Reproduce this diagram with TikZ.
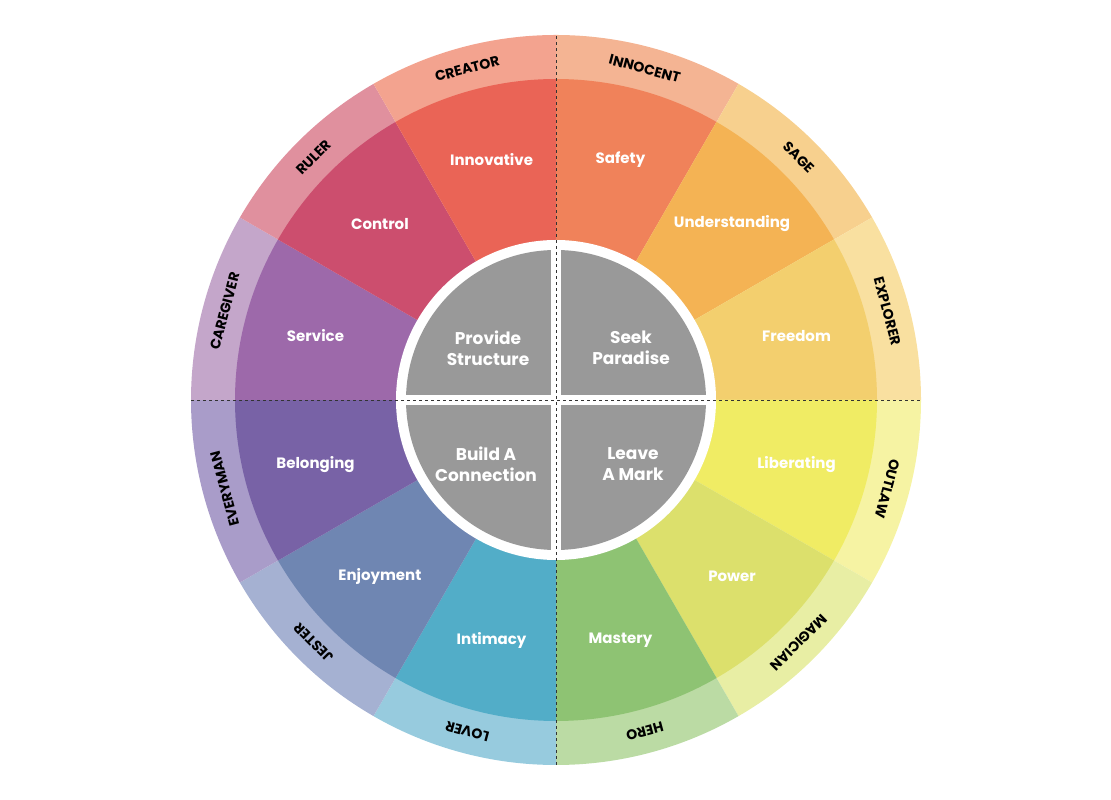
\documentclass[tikz,border=0pt]{standalone}
\usepackage{fontspec}
\setmainfont{Poppins}
\usetikzlibrary{calc}
\begin{document}
\begin{tikzpicture}[x=1pt,y=1pt,
  inlab/.style={text=white,font=\bfseries\fontsize{15}{17}\selectfont,align=center},
  outlab/.style={text=black,font=\bfseries\fontsize{14}{16}\selectfont},
  ctr/.style={text=white,font=\bfseries\fontsize{17}{21}\selectfont,align=center}]
\useasboundingbox (0,0) rectangle (1111,800);
\coordinate (c) at (556,400);
\foreach \i/\oc/\ic/\ol/\il in {
 0/F4B493/F0825A/INNOCENT/Safety,
 1/F7D08E/F4B354/SAGE/Understanding,
 2/F9E0A0/F3CF6E/EXPLORER/Freedom,
 3/F6F3A3/F0EC64/OUTLAW/Liberating,
 4/E8EEA4/DCE06C/MAGICIAN/Power,
 5/BBDBA4/8EC373/HERO/Mastery,
 6/97CBDE/52ADC8/LOVER/Intimacy,
 7/A5B1D2/6F86B2/JESTER/Enjoyment,
 8/A99CC9/7862A6/EVERYMAN/Belonging,
 9/C4A6CA/9D69AA/CAREGIVER/Service,
 10/E0909E/CC4E6E/RULER/Control,
 11/F3A38F/EA6456/CREATOR/Innovative}{
  \definecolor{oc}{HTML}{\oc}\definecolor{ic}{HTML}{\ic}
  \pgfmathsetmacro{\a}{90-30*\i}
  \pgfmathsetmacro{\b}{\a-30}
  \pgfmathsetmacro{\m}{\a-15}
  \pgfmathsetmacro{\r}{\m-90}
  \fill[oc] (c) -- ++(\a:365) arc[start angle=\a,end angle=\b,radius=365] -- cycle;
  \fill[ic] (c) -- ++(\a:321) arc[start angle=\a,end angle=\b,radius=321] -- cycle;
  \node[outlab,rotate=\r] (o\i) at ($(c)+(\m:343)$) {\ol};
  \node[inlab] (n\i) at ($(c)+(\m:249)$) {\il};
}
\fill[white] (c) circle (160);
\fill[black!40!white] (c) circle (150);
\fill[white] (551,245) rectangle (561,555);
\fill[white] (401,395) rectangle (711,405);
\draw[dashed,black!80] (556,35) -- (556,765);
\draw[dashed,black!80] (191,400) -- (921,400);
\node[ctr] (q1) at (488,452) {Provide\\Structure};
\node[ctr] (q2) at (631,452) {Seek\\Paradise};
\node[ctr] (q3) at (486,336) {Build A\\Connection};
\node[ctr] (q4) at (633,336) {Leave\\A Mark};
\end{tikzpicture}
\end{document}
